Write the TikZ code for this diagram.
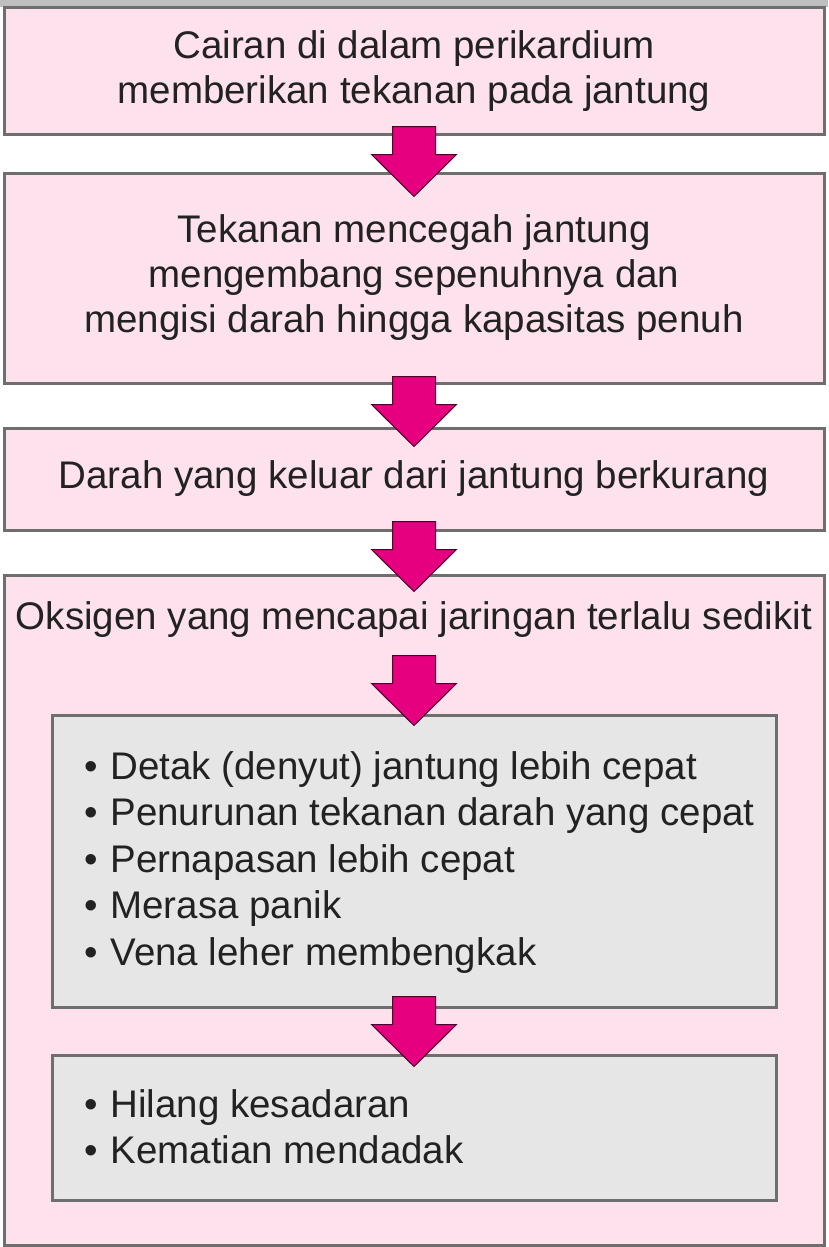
\documentclass[tikz,border=0pt]{standalone}
\usepackage{fontspec}
\setmainfont{Liberation Sans}
\usetikzlibrary{calc,positioning}
\definecolor{pinkfill}{HTML}{FDE1EC}
\definecolor{grayfill}{HTML}{E6E6E6}
\definecolor{boxline}{HTML}{6E6E6E}
\definecolor{arrowfill}{HTML}{E6007F}
\definecolor{arrowline}{HTML}{4A0028}
\definecolor{txt}{HTML}{222222}
\tikzset{
  pinkbox/.style={draw=boxline, line width=3pt, fill=pinkfill, inner sep=0pt,
    minimum width=820pt, text=txt, align=center,
    font=\fontsize{38.5}{45}\selectfont},
  graybox/.style={draw=boxline, line width=3pt, fill=grayfill, inner sep=0pt,
    minimum width=724pt},
  listtext/.style={text=txt, align=left, anchor=north west, inner sep=0pt,
    font=\fontsize{38.5}{46.5}\selectfont},
  downarrow/.pic={
    \draw[fill=arrowfill, draw=arrowline, line width=1pt, line join=miter]
      (-21.5pt,0) -- (21.5pt,0) -- (21.5pt,-28pt) -- (42.5pt,-28pt)
      -- (0,-70pt) -- (-42.5pt,-28pt) -- (-21.5pt,-28pt) -- cycle;
  }
}
\begin{document}
\begin{tikzpicture}[x=1pt,y=-1pt]
\useasboundingbox (0,0) rectangle (828,1247);
\fill[white] (0,0) rectangle (828,1247);
\fill[gray!50] (0,0) rectangle (828,7);

\node[pinkbox, minimum height=126pt] (b1) at (414,71)
  {Cairan di dalam perikardium\\memberikan tekanan pada jantung};
\node[pinkbox, minimum height=210pt] (b2) at (414,278)
  {Tekanan mencegah jantung\\mengembang sepenuhnya dan\\mengisi darah hingga kapasitas penuh};
\node[pinkbox, minimum height=102pt] (b3) at (414,479)
  {Darah yang keluar dari jantung berkurang};
\node[pinkbox, minimum height=670pt] (b4) at (414,910) {};
\node[text=txt, font=\fontsize{38.5}{45}\selectfont, inner sep=0pt] (h4) at (414,620)
  {Oksigen yang mencapai jaringan terlalu sedikit};

\node[graybox, minimum height=292pt] (g1) at (414,861) {};
\node[graybox, minimum height=145pt] (g2) at (414,1127.5) {};

\node[listtext] (l1) at (84,751)
  {\textbullet\,\,Detak (denyut) jantung lebih cepat\\
   \textbullet\,\,Penurunan tekanan darah yang cepat\\
   \textbullet\,\,Pernapasan lebih cepat\\
   \textbullet\,\,Merasa panik\\
   \textbullet\,\,Vena leher membengkak};
\node[listtext] (l2) at (84,1089)
  {\textbullet\,\,Hilang kesadaran\\
   \textbullet\,\,Kematian mendadak};

\pic at ($(b1.south)+(0,-9)$) {downarrow};
\pic at ($(b2.south)+(0,-8)$) {downarrow};
\pic at ($(b3.south)+(0,-10)$) {downarrow};
\pic at ($(g1.north)+(0,-58)$) {downarrow};
\pic at ($(g1.south)+(0,-12)$) {downarrow};
\end{tikzpicture}
\end{document}
